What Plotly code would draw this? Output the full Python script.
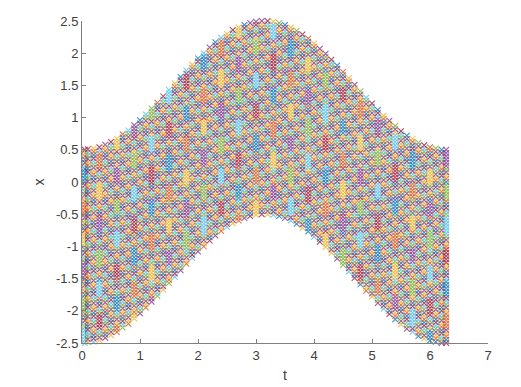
import plotly.graph_objects as go

t_values = [0.05, 0.1, 0.2, 0.3, 0.4, 0.5, 0.6, 0.7, 0.8, 0.9, 1.0, 1.1, 1.2, 1.3, 1.4, 1.5, 1.6, 1.7, 1.8, 1.9, 2.0,
            2.1, 2.2, 2.3, 2.4, 2.5, 2.6, 2.7, 2.8, 2.9, 3.0, 3.1, 3.2, 3.3, 3.4, 3.5, 3.6, 3.7, 3.8, 3.9, 4.0, 4.1,
            4.2, 4.3, 4.4, 4.5, 4.6, 4.7, 4.8, 4.9, 5.0, 5.1, 5.2, 5.3, 5.4, 5.5, 5.6, 5.7, 5.8, 5.9, 6.0, 6.1, 6.2, 6.28]
band_center = [-1.0, -0.99, -0.98, -0.96, -0.92, -0.88, -0.83, -0.76, -0.70, -0.62, -0.54, -0.45, -0.36, -0.27, -0.17,
               -0.07, 0.03, 0.13, 0.23, 0.32, 0.42, 0.50, 0.59, 0.67, 0.74, 0.80, 0.86, 0.90, 0.94, 0.97, 0.99, 1.0,
               1.0, 0.99, 0.97, 0.94, 0.90, 0.85, 0.79, 0.73, 0.65, 0.57, 0.49, 0.40, 0.31, 0.21, 0.11, 0.01, -0.09,
               -0.19, -0.28, -0.38, -0.47, -0.55, -0.63, -0.71, -0.78, -0.83, -0.89, -0.93, -0.96, -0.98, -1.0, -1.0]
offsets = [-1.5, -1.45, -1.4, -1.35, -1.3, -1.25, -1.2, -1.15, -1.1, -1.05, -1.0, -0.95, -0.9, -0.85, -0.8, -0.75,
           -0.7, -0.65, -0.6, -0.55, -0.5, -0.45, -0.4, -0.35, -0.3, -0.25, -0.2, -0.15, -0.1, -0.05, 0.0, 0.05, 0.1,
           0.15, 0.2, 0.25, 0.3, 0.35, 0.4, 0.45, 0.5, 0.55, 0.6, 0.65, 0.7, 0.75, 0.8, 0.85, 0.9, 0.95, 1.0, 1.05,
           1.1, 1.15, 1.2, 1.25, 1.3, 1.35, 1.4, 1.45, 1.5]
palette = ["#0072BD", "#D95319", "#EDB120", "#7E2F8E", "#77AC30", "#4DBEEE", "#A2142F"]
x_ticks = [0, 1, 2, 3, 4, 5, 6, 7]
y_ticks = [-2.5, -2, -1.5, -1, -0.5, 0, 0.5, 1, 1.5, 2, 2.5]
y_labels = ["-2.5", "-2", "-1.5", "-1", "-0.5", "0", "0.5", "1", "1.5", "2", "2.5"]

xs, ys, cs = [], [], []
for i, (t, c) in enumerate(zip(t_values, band_center)):
    for off in offsets:
        j = round((c + off) / 0.05)
        xs.append(t)
        ys.append(c + off)
        if i % 3 == 0 and (j // 5 + i // 3) % 2 == 0:
            k = i // 3 * 5 + (j // 5) * 3
        else:
            k = i * 3 + j
        cs.append(palette[k % 7])

FONT = "Liberation Sans, Arial"
INK = "#404040"
fig = go.Figure(go.Scatter(
    x=xs, y=ys, mode="markers",
    marker=dict(symbol="x-thin", size=5.7, color=cs, opacity=0.8, line=dict(width=1.05, color=cs)),
    cliponaxis=False, showlegend=False, hoverinfo="skip"))

axis = dict(showgrid=False, zeroline=False, showline=True, linecolor="#7f7f7f", linewidth=1, automargin=False,
            ticks="inside", ticklen=4, tickcolor="#7f7f7f", tickwidth=1,
            tickfont=dict(family=FONT, size=13, color=INK))
fig.update_layout(
    width=513, height=379, autosize=False, paper_bgcolor="white", plot_bgcolor="white",
    margin=dict(l=74, r=33, t=13, b=44), showlegend=False,
    xaxis=dict(axis, range=[0, 7], tickvals=x_ticks, ticktext=[str(v) for v in x_ticks],
               title=dict(text="t", font=dict(family=FONT, size=14, color=INK), standoff=8)),
    yaxis=dict(axis, range=[-2.5, 2.5], tickvals=y_ticks, ticktext=y_labels,
               title=dict(text="x", font=dict(family=FONT, size=14, color=INK), standoff=8)),
)
fig.write_html("out.html")
